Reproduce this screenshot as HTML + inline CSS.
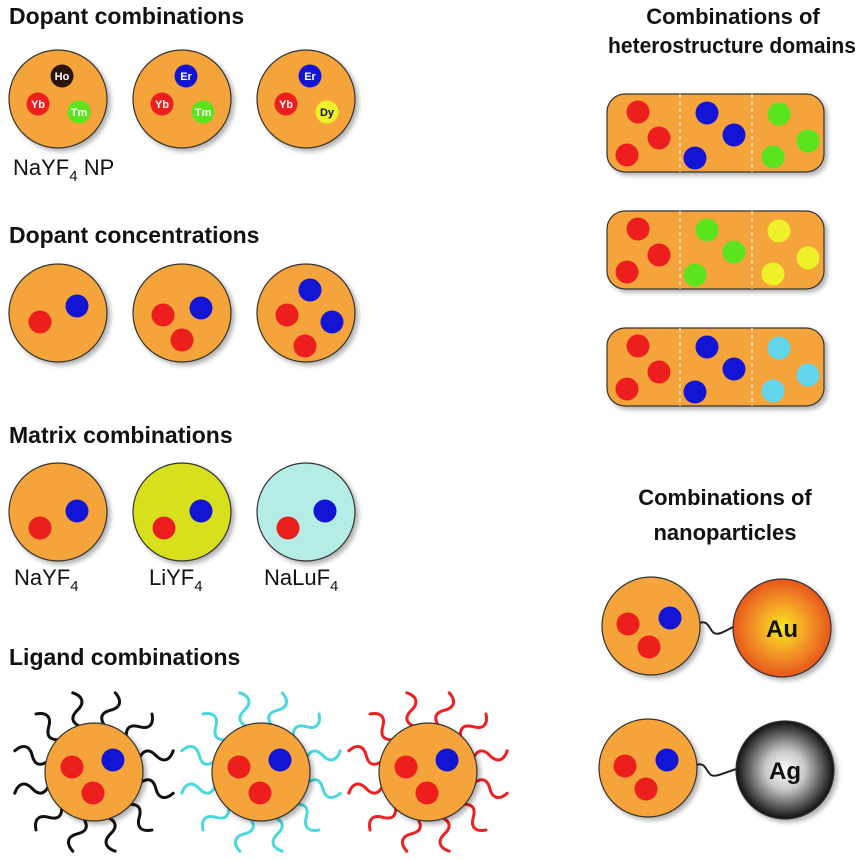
<!DOCTYPE html>
<html><head><meta charset="utf-8"><style>
html,body{margin:0;padding:0;background:#fff;width:863px;height:860px;overflow:hidden}
text{font-family:"Liberation Sans",sans-serif}
.t{font-weight:bold;font-size:23px;fill:#111}
.l{font-size:22px;fill:#111}
.d{font-weight:bold;font-size:11px;fill:#fff;text-anchor:middle}
</style></head><body>
<svg id="s" width="863" height="860" viewBox="0 0 863 860" xmlns="http://www.w3.org/2000/svg">
<defs>
<filter id="sh" x="-20%" y="-20%" width="150%" height="150%"><feDropShadow dx="3" dy="3" stdDeviation="2.5" flood-color="#000" flood-opacity="0.3"/></filter>
<radialGradient id="au"><stop offset="0" stop-color="#f8e81c"/><stop offset="0.45" stop-color="#f4a628"/><stop offset="1" stop-color="#e8561c"/></radialGradient>
<radialGradient id="ag"><stop offset="0" stop-color="#ffffff"/><stop offset="0.4" stop-color="#c8c8c8"/><stop offset="1" stop-color="#111"/></radialGradient>
</defs>
<text class="t" x="9" y="24">Dopant combinations</text>
<text class="t" x="9" y="243">Dopant concentrations</text>
<text class="t" x="9" y="443">Matrix combinations</text>
<text class="t" x="9" y="665">Ligand combinations</text>
<text class="t" x="733" y="24" text-anchor="middle" style="font-size:22px">Combinations of</text>
<text class="t" x="608" y="53" style="font-size:22px" textLength="248" lengthAdjust="spacingAndGlyphs">heterostructure domains</text>
<text class="t" x="725" y="505" text-anchor="middle" style="font-size:22px">Combinations of</text>
<text class="t" x="725" y="540" text-anchor="middle" style="font-size:22px">nanoparticles</text>
<text class="l" x="13" y="175">NaYF<tspan font-size="15" dy="6">4</tspan><tspan dy="-6"> NP</tspan></text>
<text class="l" x="14" y="585">NaYF<tspan font-size="15" dy="6">4</tspan></text>
<text class="l" x="149" y="585">LiYF<tspan font-size="15" dy="6">4</tspan></text>
<text class="l" x="264" y="585">NaLuF<tspan font-size="15" dy="6">4</tspan></text>
<g id="g"></g>
</svg>
<script>
var g=document.getElementById('g'),h='';
var O='#f5a43a',R='#ec1e1e',B='#1414d4',G='#5ae41e',Y='#eef02a',C='#62d6ec';
function circ(x,y,r,f){h+='<circle cx="'+x+'" cy="'+y+'" r="'+r+'" fill="'+f+'" stroke="#333" stroke-width="1.2" filter="url(#sh)"/>';}
function dot(x,y,f,r){h+='<circle cx="'+x+'" cy="'+y+'" r="'+(r||11.5)+'" fill="'+f+'"/>';}
function lab(x,y,t,c){h+='<text class="d" x="'+x+'" y="'+(y+4)+'" style="fill:'+(c||'#fff')+'">'+t+'</text>';}
function lig(cx,cy,col){for(var i=0;i<12;i++){var a=i*30+15;h+='<path transform="translate('+cx+','+cy+') rotate('+a+')" d="M46 0 c7 -9 13 -9 18 0 s12 9 18 0" fill="none" stroke="'+col+'" stroke-width="3" stroke-linecap="round"/>';}}
var xs=[58,182,306];
xs.forEach(function(x){circ(x,99,49,O);});
dot(62,76,'#2a140c');lab(62,76,'Ho');dot(38,104,R);lab(38,104,'Yb');dot(79,112,G);lab(79,112,'Tm');
dot(186,76,B);lab(186,76,'Er');dot(162,104,R);lab(162,104,'Yb');dot(203,112,G);lab(203,112,'Tm');
dot(310,76,B);lab(310,76,'Er');dot(286,104,R);lab(286,104,'Yb');dot(327,112,Y);lab(327,112,'Dy','#111');
xs.forEach(function(x){circ(x,313,49,O);});
dot(40,322,R);dot(77,306,B);
dot(163,315,R);dot(201,308,B);dot(182,340,R);
dot(310,290,B);dot(287,315,R);dot(332,322,B);dot(305,346,R);
circ(58,512,49,O);circ(182,512,49,'#d6e01e');circ(306,512,49,'#b4ece6');
[0,124,248].forEach(function(o){dot(40+o,528,R);dot(77+o,511,B);});
[[94,'#111'],[261,'#4ad8e0'],[428,'#ee2020']].forEach(function(p){lig(p[0],772,p[1]);});
[94,261,428].forEach(function(x){circ(x,772,49,O);dot(x-22,767,R);dot(x+19,760,B);dot(x-1,793,R);});
var sets=[[B,G],[G,Y],[B,C]];
for(var k=0;k<3;k++){var y=94+k*117;
h+='<rect x="607" y="'+y+'" width="217" height="78" rx="18" fill="'+O+'" stroke="#333" stroke-width="1.2" filter="url(#sh)"/>';
h+='<line x1="680" y1="'+y+'" x2="680" y2="'+(y+78)+'" stroke="#fff" stroke-width="1" stroke-dasharray="4,3"/>';
h+='<line x1="752" y1="'+y+'" x2="752" y2="'+(y+78)+'" stroke="#fff" stroke-width="1" stroke-dasharray="4,3"/>';
dot(638,y+18,R);dot(659,y+44,R);dot(627,y+61,R);
dot(707,y+19,sets[k][0]);dot(734,y+41,sets[k][0]);dot(695,y+64,sets[k][0]);
dot(779,y+20,sets[k][1]);dot(808,y+47,sets[k][1]);dot(773,y+63,sets[k][1]);}
[[626,'url(#au)','Au'],[768,'url(#ag)','Ag']].forEach(function(p,i){var cy=p[0],lx=i?648:651,rx=i?785:782;
h+='<path d="M'+(lx+49)+' '+(cy-3)+' c8 -4 10 8 14 10 s8 0 '+(rx-49-lx-49-14)+' -6" fill="none" stroke="#222" stroke-width="2"/>';
circ(lx,cy,49,O);dot(lx-23,cy-2,R);dot(lx+19,cy-8,B);dot(lx-2,cy+21,R);
circ(rx,cy+2,49,p[1]);h+='<text x="'+rx+'" y="'+(cy+11)+'" text-anchor="middle" style="font-weight:bold;font-size:24px;fill:#111">'+p[2]+'</text>';});
g.innerHTML=h;
</script>
</body></html>
